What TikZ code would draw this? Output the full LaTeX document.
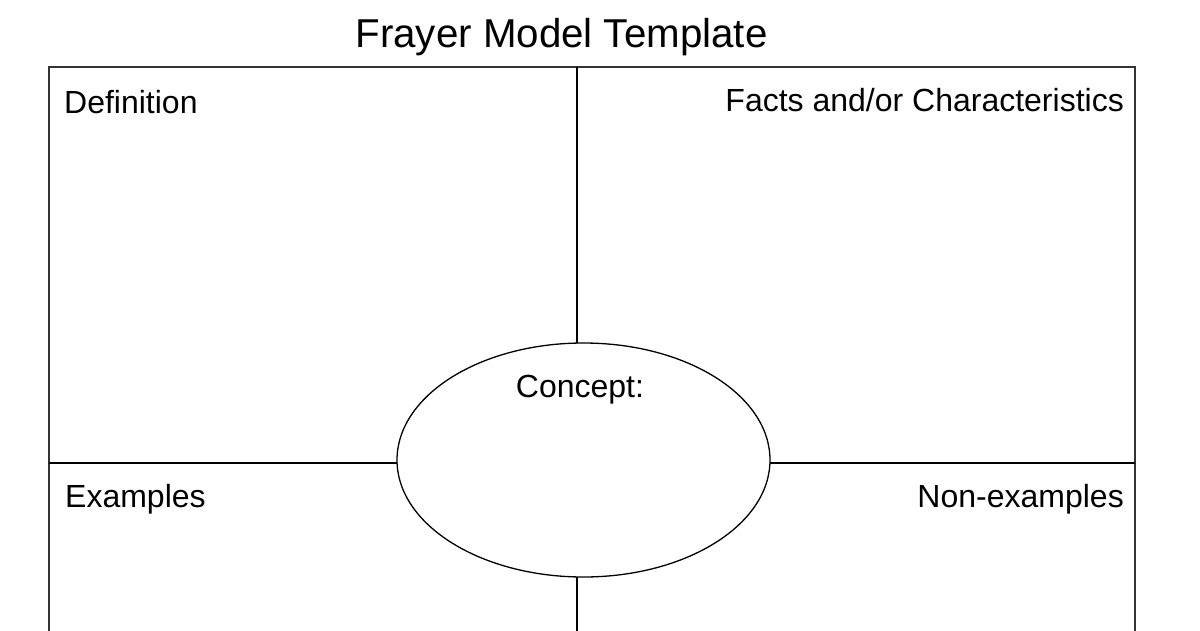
\documentclass[tikz,border=0pt]{standalone}
\usepackage{fontspec}
\setmainfont{Liberation Sans}
\usetikzlibrary{shapes.geometric}
\begin{document}
\begin{tikzpicture}[x=1pt,y=-1pt,
  frame/.style={draw=black!80,line width=1.6pt},
  divider/.style={draw=black,line width=1.2pt},
  label/.style={inner sep=0pt,font=\fontsize{32}{38}\selectfont},
  concept/.style={ellipse,draw=black,line width=1.3pt,fill=white,minimum width=373pt,minimum height=234pt,inner sep=0pt}]
\useasboundingbox (0,0) rectangle (1200,630);
\clip (0,0) rectangle (1200,630);
\fill[white] (0,0) rectangle (1200,630);
\node[inner sep=0pt,anchor=base,font=\fontsize{40.3}{48}\selectfont] (title) at (561.5,47) {Frayer Model Template};
\draw[frame] (49,67) rectangle (1135,700);
\coordinate (vt) at (577,67);
\coordinate (vb) at (577,640);
\coordinate (hl) at (49,463);
\coordinate (hr) at (1135,463);
\draw[divider] (vt) -- (vb);
\draw[divider] (hl) -- (hr);
\node[concept] (c) at (583.5,460) {};
\node[label,anchor=base] (clab) at (580,397) {Concept:};
\node[label,anchor=base west] (def) at (64,113) {Definition};
\node[label,anchor=base east] (fac) at (1124,111) {Facts and/or Characteristics};
\node[label,anchor=base west] (ex) at (65,507) {Examples};
\node[label,anchor=base east] (nex) at (1124,507) {Non-examples};
\end{tikzpicture}
\end{document}
